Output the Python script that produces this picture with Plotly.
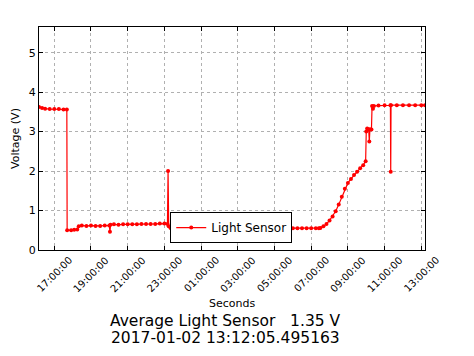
import plotly.graph_objects as go

times = [
    "2017-01-01 16:10", "2017-01-01 16:20", "2017-01-01 16:30", "2017-01-01 16:45",
    "2017-01-01 17:00", "2017-01-01 17:15", "2017-01-01 17:30", "2017-01-01 17:41",
    "2017-01-01 17:42", "2017-01-01 17:55", "2017-01-01 18:05", "2017-01-01 18:15",
    "2017-01-01 18:20", "2017-01-01 18:30", "2017-01-01 18:45", "2017-01-01 19:00",
    "2017-01-01 19:15", "2017-01-01 19:30", "2017-01-01 19:45", "2017-01-01 20:00",
    "2017-01-01 20:02", "2017-01-01 20:04", "2017-01-01 20:15", "2017-01-01 20:30",
    "2017-01-01 20:45", "2017-01-01 21:00", "2017-01-01 21:15", "2017-01-01 21:30",
    "2017-01-01 21:45", "2017-01-01 22:00", "2017-01-01 22:15", "2017-01-01 22:30",
    "2017-01-01 22:45", "2017-01-01 23:00", "2017-01-01 23:10", "2017-01-01 23:12",
    "2017-01-01 23:14", "2017-01-01 23:20", "2017-01-01 23:40", "2017-01-02 00:00",
    "2017-01-02 00:30", "2017-01-02 01:00", "2017-01-02 01:30", "2017-01-02 02:00",
    "2017-01-02 02:30", "2017-01-02 03:00", "2017-01-02 03:30", "2017-01-02 04:00",
    "2017-01-02 04:30", "2017-01-02 05:00", "2017-01-02 05:30", "2017-01-02 05:45",
    "2017-01-02 06:00", "2017-01-02 06:15", "2017-01-02 06:30", "2017-01-02 06:45",
    "2017-01-02 07:00", "2017-01-02 07:15", "2017-01-02 07:25", "2017-01-02 07:30",
    "2017-01-02 07:40", "2017-01-02 07:50", "2017-01-02 08:00", "2017-01-02 08:10",
    "2017-01-02 08:20", "2017-01-02 08:30", "2017-01-02 08:40", "2017-01-02 08:50",
    "2017-01-02 09:00", "2017-01-02 09:10", "2017-01-02 09:20", "2017-01-02 09:30",
    "2017-01-02 09:40", "2017-01-02 09:50", "2017-01-02 09:58", "2017-01-02 10:00",
    "2017-01-02 10:03", "2017-01-02 10:08", "2017-01-02 10:10", "2017-01-02 10:12",
    "2017-01-02 10:17", "2017-01-02 10:19", "2017-01-02 10:22", "2017-01-02 10:25",
    "2017-01-02 10:40", "2017-01-02 11:00", "2017-01-02 11:19", "2017-01-02 11:20",
    "2017-01-02 11:21", "2017-01-02 11:40", "2017-01-02 12:00", "2017-01-02 12:20",
    "2017-01-02 12:40", "2017-01-02 13:00", "2017-01-02 13:12:05",
]
volts = [
    3.62, 3.60, 3.58, 3.57,
    3.57, 3.57, 3.56, 3.56,
    0.50, 0.50, 0.51, 0.52,
    0.60, 0.62, 0.61, 0.62,
    0.61, 0.61, 0.62, 0.62,
    0.46, 0.64, 0.65, 0.64,
    0.65, 0.65, 0.65, 0.65,
    0.66, 0.66, 0.66, 0.66,
    0.67, 0.67, 0.66, 2.00,
    0.60, 0.56, 0.55, 0.55,
    0.55, 0.55, 0.55, 0.55,
    0.55, 0.55, 0.55, 0.55,
    0.55, 0.55, 0.55, 0.55,
    0.55, 0.55, 0.55, 0.55,
    0.55, 0.55, 0.55, 0.56,
    0.60, 0.66, 0.75, 0.85,
    0.98, 1.15, 1.35, 1.55,
    1.70, 1.80, 1.90, 1.98,
    2.07, 2.15, 2.25, 3.00,
    3.08, 3.05, 2.75, 3.06,
    3.05, 3.65, 3.58, 3.65,
    3.66, 3.67, 3.67, 1.98,
    3.67, 3.67, 3.67, 3.67,
    3.67, 3.67, 3.67,
]

tick_vals = ["2017-01-01 17:00", "2017-01-01 19:00", "2017-01-01 21:00", "2017-01-01 23:00",
             "2017-01-02 01:00", "2017-01-02 03:00", "2017-01-02 05:00", "2017-01-02 07:00",
             "2017-01-02 09:00", "2017-01-02 11:00", "2017-01-02 13:00"]
tick_text = ["17:00:00", "19:00:00", "21:00:00", "23:00:00", "01:00:00", "03:00:00",
             "05:00:00", "07:00:00", "09:00:00", "11:00:00", "13:00:00"]

FONT = "DejaVu Sans"

fig = go.Figure()
fig.add_trace(go.Scatter(
    x=times, y=volts, mode="lines+markers", name="Light Sensor",
    line=dict(color="#ff0000", width=1.2),
    marker=dict(color="#ff0000", size=4),
))

axis_common = dict(
    showline=True, linecolor="black", linewidth=1, mirror="ticks",
    ticks="inside", ticklen=4, tickcolor="black",
    showgrid=True, gridcolor="#b0b0b0", griddash="dot", gridwidth=1,
    zeroline=False, automargin=False,
)

# Rotated tick labels centred on their ticks (as in the reference)
tick_annotations = [
    dict(text=t, x=v, xref="x", y=-0.108, yref="paper",
         xanchor="center", yanchor="middle", textangle=-45, showarrow=False,
         font=dict(family=FONT, size=10))
    for v, t in zip(tick_vals, tick_text)
]

fig.update_layout(
    width=474, height=356,
    margin=dict(l=39, r=49, t=27, b=106),
    paper_bgcolor="white", plot_bgcolor="white",
    font=dict(family=FONT, size=11, color="black"),
    showlegend=True,
    legend=dict(
        x=0.34, y=0.031, xanchor="left", yanchor="bottom",
        bgcolor="white", bordercolor="black", borderwidth=1,
        font=dict(family=FONT, size=12),
    ),
    xaxis=dict(
        range=["2017-01-01 16:10", "2017-01-02 13:12:05"],
        tickvals=tick_vals, ticktext=tick_text, showticklabels=False,
        **axis_common,
    ),
    yaxis=dict(
        range=[0, 5.65], tickvals=[0, 1, 2, 3, 4, 5],
        tickfont=dict(size=11),
        title=dict(text="Voltage (V)", font=dict(size=11), standoff=6),
        **axis_common,
    ),
    annotations=tick_annotations + [
        dict(text="Seconds", xref="paper", yref="paper",
             x=0.5, y=-0.238, xanchor="center", yanchor="middle", showarrow=False,
             font=dict(family=FONT, size=11)),
        dict(text="Average Light Sensor   1.35 V", xref="paper", yref="paper",
             x=0.482, y=-0.318, xanchor="center", yanchor="middle", showarrow=False,
             font=dict(family=FONT, size=15.5)),
        dict(text="2017-01-02 13:12:05.495163", xref="paper", yref="paper",
             x=0.482, y=-0.395, xanchor="center", yanchor="middle", showarrow=False,
             font=dict(family=FONT, size=15.5)),
    ],
)

fig.write_html("out.html", config={"displayModeBar": False},
               post_script="document.body.style.margin='0px';")
